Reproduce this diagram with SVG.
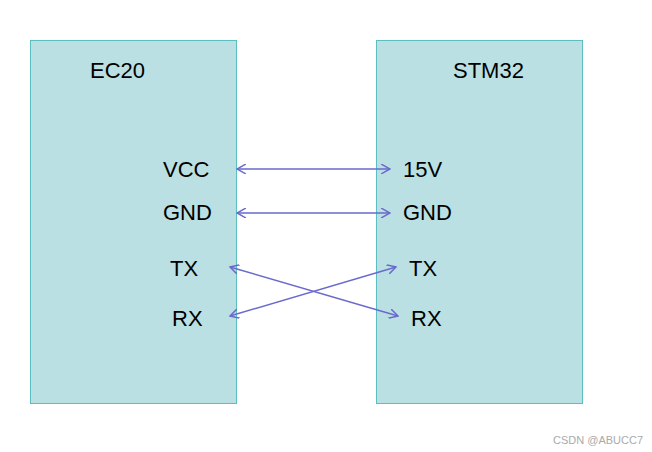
<svg xmlns="http://www.w3.org/2000/svg" width="652" height="452" viewBox="0 0 652 452">
<style>
.box{fill:#bae0e3;stroke:#5cbfbf;stroke-width:1}
text{font-family:"Liberation Sans",Arial,sans-serif;font-size:22px;fill:#000}
.c{stroke:#6a6acd;stroke-width:1.5;fill:none}
</style>
<defs>
<marker id="a" viewBox="0 0 10 10" refX="9" refY="5" markerWidth="10" markerHeight="10" markerUnits="userSpaceOnUse" orient="auto-start-reverse">
<path d="M0,0 L9,5 L0,10" fill="none" stroke="#6a6acd" stroke-width="1.5"/>
</marker>
</defs>
<rect width="652" height="452" fill="#fff"/>
<g id="ec20"><rect class="box" x="30.5" y="40.5" width="206" height="363"/>
<text x="90" y="78">EC20</text><text x="163" y="177">VCC</text><text x="163" y="220">GND</text><text x="170" y="276">TX</text><text x="172" y="326">RX</text></g>
<g id="stm32"><rect class="box" x="376.5" y="40.5" width="206" height="363"/>
<text x="453" y="78">STM32</text><text x="403" y="177">15V</text><text x="403" y="220">GND</text><text x="409" y="276">TX</text><text x="411" y="326">RX</text></g>
<g id="connectors">
<line class="c" x1="237" y1="169" x2="390" y2="169" marker-start="url(#a)" marker-end="url(#a)"/>
<line class="c" x1="237" y1="213" x2="390" y2="213" marker-start="url(#a)" marker-end="url(#a)"/>
<line class="c" x1="230" y1="267" x2="398" y2="316" marker-start="url(#a)" marker-end="url(#a)"/>
<line class="c" x1="230" y1="316" x2="396" y2="267" marker-start="url(#a)" marker-end="url(#a)"/>
</g>
<text x="553" y="444" style="font-size:11px;fill:#aaa">CSDN @ABUCC7</text>
</svg>
